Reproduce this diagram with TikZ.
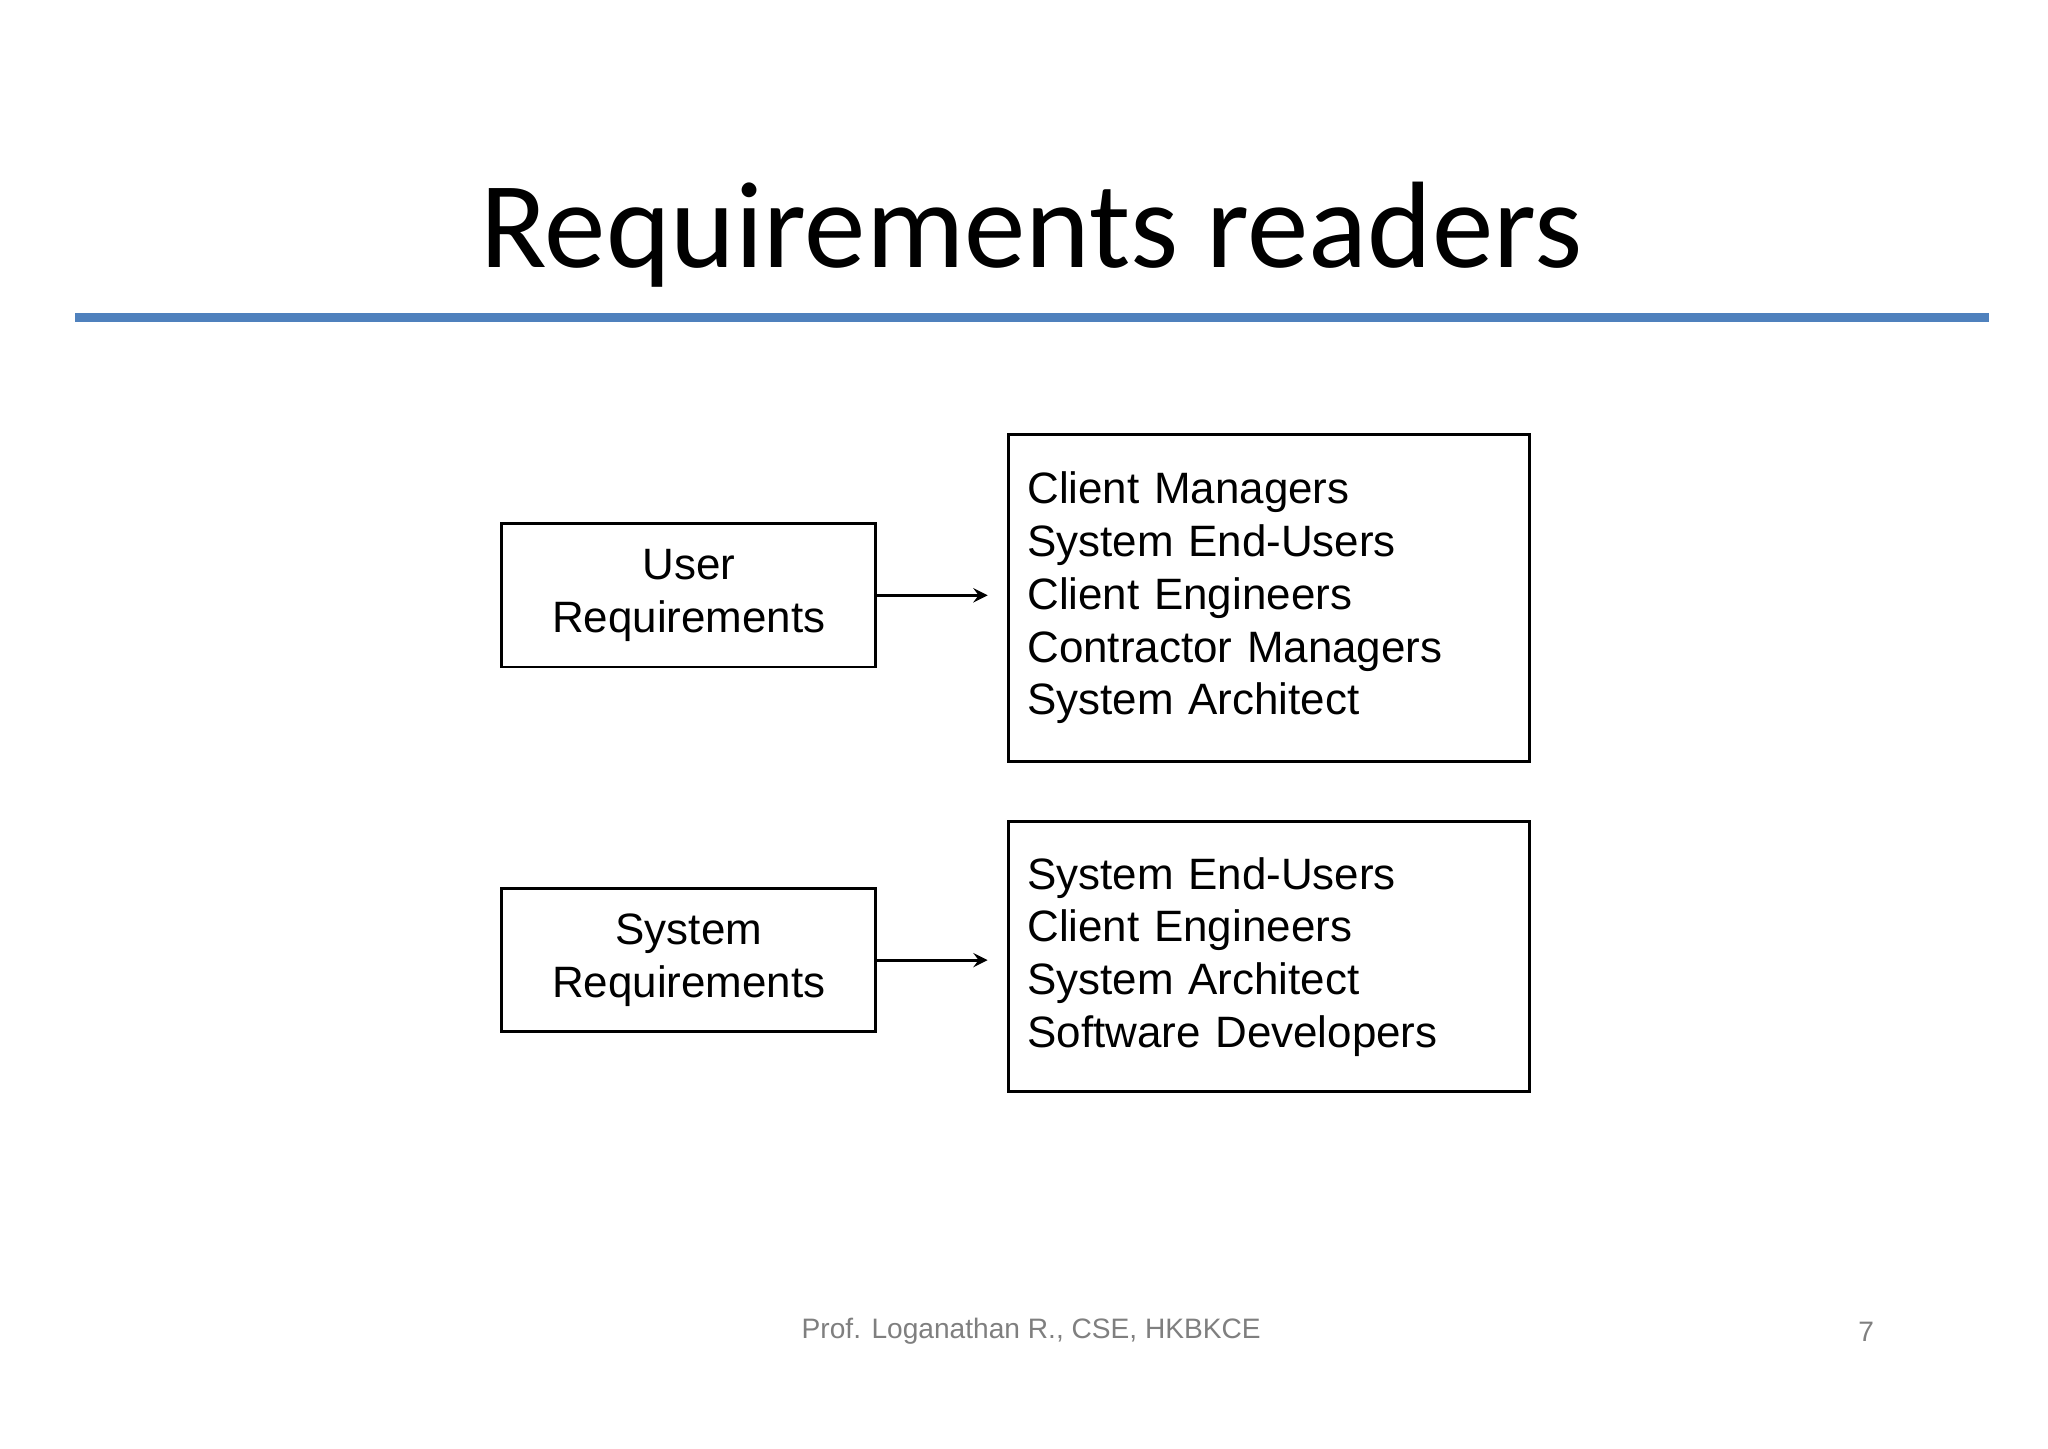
\documentclass[tikz,border=0pt]{standalone}
\usepackage{fontspec}
\setmainfont{Liberation Sans}
\newfontfamily\titlefont{Carlito}
\usetikzlibrary{positioning}
\definecolor{rulecol}{HTML}{4F81BD}
\definecolor{footgray}{HTML}{7F7F7F}
\tikzset{>=stealth}
\tikzset{
  docbox/.style={draw, thick, minimum width=284*0.01317cm, minimum height=109*0.01317cm,
    align=center, font=\fontsize{12.5}{15}\selectfont},
  readbox/.style={draw, thick, text width=367*0.01317cm, inner sep=14*0.01317cm,
    align=left, font=\fontsize{12.5}{15}\selectfont}
}

\begin{document}
\begin{tikzpicture}[x=0.01317cm, y=-0.01317cm]

  \useasboundingbox (0,0) rectangle (1555,1100);

  \node[font=\titlefont\fontsize{35}{40}\selectfont] (title) at (783,178) {Requirements readers};
  \draw[rulecol, line width=2.6pt] (57,241) -- (1510,241);

  \node[docbox] (user) at (523,452) {User\\Requirements};
  \node[docbox] (sys) at (523,729) {System\\Requirements};

  \node[readbox, minimum height=248*0.01317cm] (userread) at (963.5,454)
    {Client Managers\\System End-Users\\Client Engineers\\Contractor Managers\\System Architect};
  \node[readbox, minimum height=205*0.01317cm] (sysread) at (963.5,726.5)
    {System End-Users\\Client Engineers\\System Architect\\Software Developers};

  \draw[->, thick, shorten >=15*0.01317cm] (user.east) -- (user.east -| userread.west);
  \draw[->, thick, shorten >=15*0.01317cm] (sys.east) -- (sys.east -| sysread.west);

  \node[text=footgray, font=\fontsize{8}{10}\selectfont] (foot) at (783,1011) {Prof. Loganathan R., CSE, HKBKCE};
  \node[text=footgray, font=\fontsize{8}{10}\selectfont] (page) at (1417,1011) {7};

\end{tikzpicture}
\end{document}
